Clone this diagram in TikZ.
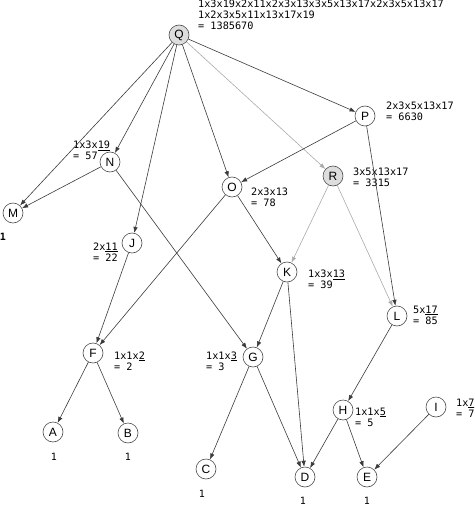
\documentclass[tikz,border=0pt]{standalone}
\usepackage{fontspec}
\setmainfont{Liberation Sans}
\newfontfamily\labfont{DejaVu Sans Mono}
\usetikzlibrary{arrows.meta}
\definecolor{edgedark}{HTML}{3A3A3A}
\definecolor{edgelight}{HTML}{ABABAB}
\definecolor{nodefill}{HTML}{DDDDDD}
\newcommand\uln[1]{\smash{\underline{#1}}}
\tikzset{
  vtx/.style={circle,draw=black!70,line width=0.6pt,fill=white,minimum size=20pt,inner sep=0pt,font=\fontsize{12}{12}\selectfont},
  gvtx/.style={vtx,fill=nodefill},
  lab/.style={anchor=west,align=left,inner sep=0pt,font=\labfont\fontsize{10.2}{11}\selectfont},
  one/.style={inner sep=0pt,font=\labfont\fontsize{10}{11}\selectfont},
  dk/.style={draw=edgedark,line width=0.6pt,-{Latex[length=6pt,width=4.5pt]}},
  lt/.style={draw=edgelight,line width=0.6pt,-{Latex[length=6pt,width=4.5pt]}},
}
\begin{document}
\begin{tikzpicture}[x=1pt,y=-1pt]
\useasboundingbox (0,0) rectangle (474,508);
\clip (0,0) rectangle (474,508);
% nodes
\node[gvtx] (Q) at (179,35) {Q};
\node[vtx] (P) at (365,116) {P};
\node[vtx] (N) at (110,162) {N};
\node[vtx] (M) at (13,213) {M};
\node[vtx] (O) at (232,187) {O};
\node[gvtx] (R) at (333,176) {R};
\node[vtx] (J) at (132,243) {J};
\node[vtx] (K) at (287,272) {K};
\node[vtx] (L) at (397,316) {L};
\node[vtx] (F) at (93,353) {F};
\node[vtx] (G) at (253,357) {G};
\node[vtx] (H) at (343,410) {H};
\node[vtx] (I) at (436,407) {I};
\node[vtx] (A) at (53,432) {A};
\node[vtx] (B) at (128,433) {B};
\node[vtx] (C) at (206,469) {C};
\node[vtx] (D) at (305,477) {D};
\node[vtx] (E) at (367,477) {E};
% labels
\node[lab] (lQ) at (198,15) {1x3x19x2x11x2x3x13x3x5x13x17x2x3x5x13x17\\1x2x3x5x11x13x17x19\\= 1385670};
\node[lab] (lP) at (386,111) {2x3x5x13x17\\= 6630};
\node[lab] (lN) at (73,150) {1x3x\uln{19}\\= 57};
\node[lab] (lO) at (251,197) {2x3x13\\= 78};
\node[lab] (lR) at (353,177) {3x5x13x17\\= 3315};
\node[lab] (lJ) at (93,252) {2x\uln{11}\\= 22};
\node[lab] (lK) at (308,279) {1x3x\uln{13}\\= 39};
\node[lab] (lL) at (413,315) {5x\uln{17}\\= 85};
\node[lab] (lF) at (114,361) {1x1x\uln{2}\\= 2};
\node[lab] (lG) at (206,361) {1x1x\uln{3}\\= 3};
\node[lab] (lH) at (355,417) {1x1x\uln{5}\\= 5};
\node[lab] (lI) at (456,408) {1x\uln{7}\\= 7};
\node[one,font=\labfont\bfseries\fontsize{10}{11}\selectfont] (oM) at (3,237) {1};
\node[one] (oA) at (54,457) {1};
\node[one] (oB) at (128,457) {1};
\node[one] (oC) at (202,494) {1};
\node[one] (oD) at (303,501) {1};
\node[one] (oE) at (367,501) {1};
% edges
\draw[dk] (Q) -- (M);
\draw[dk] (Q) -- (N);
\draw[dk] (Q) -- (J);
\draw[dk] (Q) -- (O);
\draw[dk] (Q) -- (P);
\draw[lt] (Q) -- (R);
\draw[dk] (P) -- (O);
\draw[dk] (P) -- (L);
\draw[dk] (N) -- (M);
\draw[dk] (N) -- (G);
\draw[dk] (O) -- (F);
\draw[dk] (O) -- (K);
\draw[lt] (R) -- (K);
\draw[lt] (R) -- (L);
\draw[dk] (J) -- (F);
\draw[dk] (K) -- (G);
\draw[dk] (K) -- (D);
\draw[dk] (L) -- (H);
\draw[dk] (F) -- (A);
\draw[dk] (F) -- (B);
\draw[dk] (G) -- (C);
\draw[dk] (G) -- (D);
\draw[dk] (H) -- (D);
\draw[dk] (H) -- (E);
\draw[dk] (I) -- (E);
\end{tikzpicture}
\end{document}
